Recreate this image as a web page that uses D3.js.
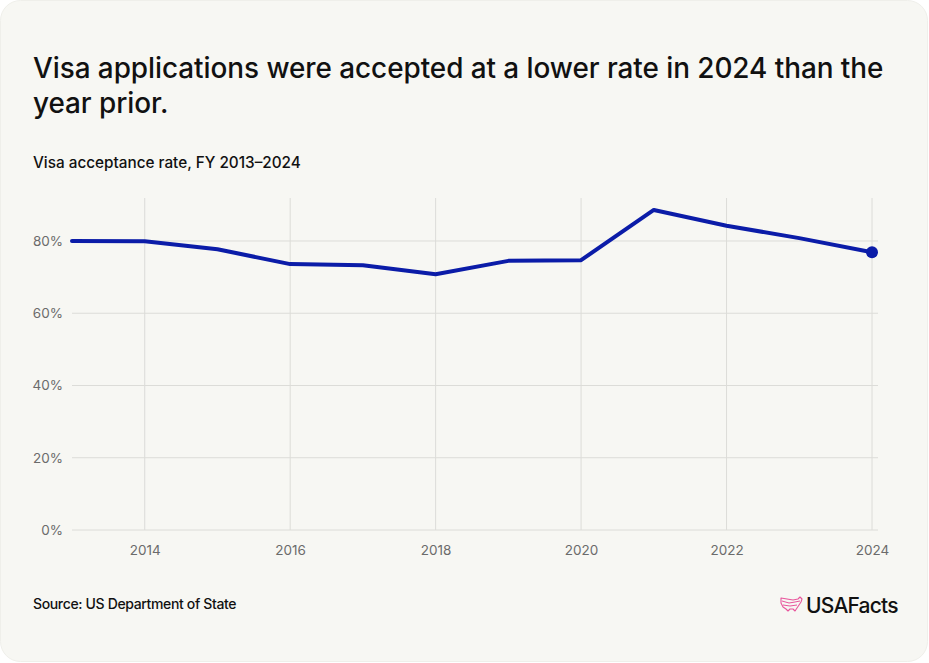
<!DOCTYPE html>
<html>
<head>
<meta charset="utf-8">
<title>Visa acceptance rate</title>
<style>
  html, body { margin: 0; padding: 0; background: #ffffff; }
  svg text { font-family: Inter, "Noto Sans", sans-serif; }
</style>
</head>
<body>
<svg class="svg" width="929" height="663"></svg>
<script src="https://cdn.jsdelivr.net/npm/d3@7"></script>
<script>
  // data
  var years = [2013, 2014, 2015, 2016, 2017, 2018, 2019, 2020, 2021, 2022, 2023, 2024];
  var rates = [80.0, 79.9, 77.7, 73.6, 73.3, 70.8, 74.5, 74.7, 88.6, 84.2, 80.8, 76.9];
  var yTicks = [0, 20, 40, 60, 80];
  var xTicks = [2014, 2016, 2018, 2020, 2022, 2024];

  var titleLines = ["Visa applications were accepted at a lower rate in 2024 than the", "year prior."];
  var subtitle = "Visa acceptance rate, FY 2013\u20132024";
  var source = "Source: US Department of State";

  var svg = d3.select("svg");

  // card
  svg.append("rect")
    .attr("x", 0.5).attr("y", 0.5)
    .attr("width", 927).attr("height", 661)
    .attr("rx", 20)
    .attr("fill", "#f7f7f3")
    .attr("stroke", "#efefea");

  // title
  svg.append("g").selectAll("text")
    .data(titleLines)
    .enter().append("text")
    .attr("x", 33)
    .attr("y", function(d, i) { return 78 + i * 35; })
    .attr("font-size", 27.9)
    .attr("font-weight", 500)
    .attr("letter-spacing", -0.05)
    .attr("fill", "#111")
    .text(function(d) { return d; });

  svg.append("text")
    .attr("x", 33).attr("y", 168)
    .attr("font-size", 15.3)
    .attr("font-weight", 500)
    .attr("fill", "#111")
    .text(subtitle);

  var margin = { top: 198, left: 72, right: 57, bottom: 133 };
  var width = 929 - margin.left - margin.right;
  var height = 663 - margin.top - margin.bottom;

  var x = d3.scaleLinear().domain([2013, 2024]).range([0, width]);
  var y = d3.scaleLinear().domain([0, 91.9]).range([height, 0]);

  var g = svg.append("g")
    .attr("transform", "translate(" + margin.left + "," + margin.top + ")");

  // vertical grid
  g.append("g").selectAll("line")
    .data(xTicks)
    .enter().append("line")
    .attr("x1", function(d) { return x(d); })
    .attr("x2", function(d) { return x(d); })
    .attr("y1", 0).attr("y2", height)
    .attr("stroke", "#dcdcd8").attr("stroke-width", 1);

  // horizontal grid
  g.append("g").selectAll("line")
    .data(yTicks)
    .enter().append("line")
    .attr("x1", 0).attr("x2", width + 6)
    .attr("y1", function(d) { return y(d); })
    .attr("y2", function(d) { return y(d); })
    .attr("stroke", "#dcdcd8").attr("stroke-width", 1);

  // y axis labels
  var yAxis = g.append("g")
    .call(d3.axisLeft(y).tickValues(yTicks).tickSize(0).tickPadding(9)
      .tickFormat(function(d) { return d + "%"; }));
  yAxis.select(".domain").remove();
  yAxis.selectAll("text")
    .attr("font-family", "Inter, sans-serif")
    .attr("font-size", 13.5)
    .attr("fill", "#6b6b6b");

  // x axis labels
  var xAxis = g.append("g")
    .attr("transform", "translate(0," + height + ")")
    .call(d3.axisBottom(x).tickValues(xTicks).tickSize(0).tickPadding(15)
      .tickFormat(d3.format("d")));
  xAxis.select(".domain").remove();
  xAxis.selectAll("text")
    .attr("font-family", "Inter, sans-serif")
    .attr("font-size", 13.5)
    .attr("fill", "#6b6b6b");

  var data = years.map(function(yr, i) { return { year: yr, rate: rates[i] }; });

  var line = d3.line()
    .x(function(d) { return x(d.year); })
    .y(function(d) { return y(d.rate); });

  g.append("path")
    .datum(data)
    .attr("fill", "none")
    .attr("stroke", "#0b1ca8")
    .attr("stroke-width", 4)
    .attr("stroke-linejoin", "round")
    .attr("stroke-linecap", "round")
    .attr("d", line);

  var last = data[data.length - 1];
  g.append("circle")
    .attr("cx", x(last.year))
    .attr("cy", y(last.rate))
    .attr("r", 6)
    .attr("fill", "#0b1ca8");

  // source
  svg.append("text")
    .attr("x", 33).attr("y", 609)
    .attr("font-size", 14)
    .attr("font-weight", 500)
    .attr("letter-spacing", -0.35)
    .attr("fill", "#111")
    .text(source);

  // logo: rough outline of the US map plus wordmark
  var logo = svg.append("g").attr("transform", "translate(781,597)");
  logo.append("path")
    .attr("d", "M0,1 L6,2 L12,3 L17,2 L19,0 L21,2 L20,5 L18,8 L16,11 L14,14 L12,12 L9,12 L7,14 L5,12 L2,10 L0,6 Z")
    .attr("fill", "none")
    .attr("stroke", "#e8559b")
    .attr("stroke-width", 1.1)
    .attr("stroke-linejoin", "round");
  logo.append("path")
    .attr("d", "M1,4 L8,6 L14,5 L19,4 M2,8 L9,9 L16,8")
    .attr("fill", "none")
    .attr("stroke", "#e8559b")
    .attr("stroke-width", 1);
  svg.append("text")
    .attr("x", 806).attr("y", 613)
    .attr("font-size", 21)
    .attr("font-weight", 500)
    .attr("letter-spacing", -0.8)
    .attr("fill", "#111")
    .text("USAFacts");
</script>
</body>
</html>
